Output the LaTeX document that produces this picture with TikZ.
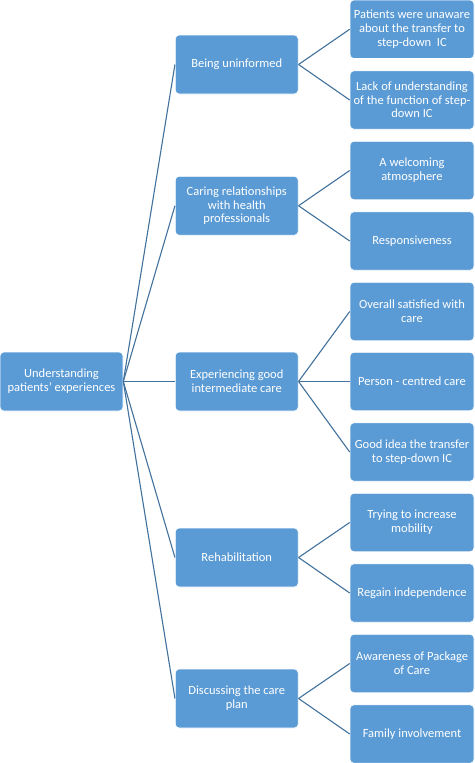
\documentclass[tikz,border=0pt]{standalone}
\usepackage{fontspec}
\setmainfont{Carlito}
\definecolor{boxblue}{RGB}{91,155,213}
\definecolor{lineblue}{RGB}{65,113,156}
\tikzset{every picture/.style={line width=0.75pt}}
\tikzset{
  themebox/.style={draw=white, line width=0.6pt, fill=boxblue, rounded corners=4pt, text=white, align=center,
    minimum width=123pt, minimum height=59pt, inner sep=1pt,
    font=\fontsize{12.5}{13.7}\selectfont},
  leafbox/.style={themebox, minimum width=124pt, minimum height=58.5pt},
  link/.style={draw=lineblue, line width=1.1pt}
}
\begin{document}
\begin{tikzpicture}[x=1pt,y=1pt,yscale=-1,xscale=1]
	\useasboundingbox (0,0) rectangle (474,763);

	% Root
	\node[themebox] (root) at (61.5,381.5) {Understanding\\patients’ experiences};

	% Themes
	\node[themebox] (uninf) at (236.75,64.5) {Being uninformed};
	\node[themebox] (caring) at (236.75,205.75) {Caring relationships\\with health\\professionals};
	\node[themebox] (goodic) at (236.75,381.5) {Experiencing good\\intermediate care};
	\node[themebox] (rehab) at (236.75,557.5) {Rehabilitation};
	\node[themebox] (plan) at (236.75,698.5) {Discussing the care\\plan};

	% Sub-themes
	\node[leafbox] (unaware) at (412,29.25) {Patients were unaware\\about the transfer to\\step-down\ \ IC};
	\node[leafbox] (lack) at (412,100) {Lack of understanding\\of the function of step-\\down IC};
	\node[leafbox] (welcome) at (412,170.5) {A welcoming\\atmosphere};
	\node[leafbox] (respons) at (412,241) {Responsiveness};
	\node[leafbox] (satisf) at (412,311.5) {Overall satisfied with\\care};
	\node[leafbox] (person) at (412,381.5) {Person - centred care};
	\node[leafbox] (goodidea) at (412,452) {Good idea the transfer\\to step-down IC};
	\node[leafbox] (mobil) at (412,522.5) {Trying to increase\\mobility};
	\node[leafbox] (indep) at (412,593) {Regain independence};
	\node[leafbox] (aware) at (412,663.5) {Awareness of Package\\of Care};
	\node[leafbox] (family) at (412,734) {Family involvement};

	% Connectors
	\foreach \t in {uninf,caring,goodic,rehab,plan}
		\draw[link] (root.east) -- (\t.west);
	\draw[link] (uninf.east) -- (unaware.west);
	\draw[link] (uninf.east) -- (lack.west);
	\draw[link] (caring.east) -- (welcome.west);
	\draw[link] (caring.east) -- (respons.west);
	\draw[link] (goodic.east) -- (satisf.west);
	\draw[link] (goodic.east) -- (person.west);
	\draw[link] (goodic.east) -- (goodidea.west);
	\draw[link] (rehab.east) -- (mobil.west);
	\draw[link] (rehab.east) -- (indep.west);
	\draw[link] (plan.east) -- (aware.west);
	\draw[link] (plan.east) -- (family.west);

\end{tikzpicture}
\end{document}
